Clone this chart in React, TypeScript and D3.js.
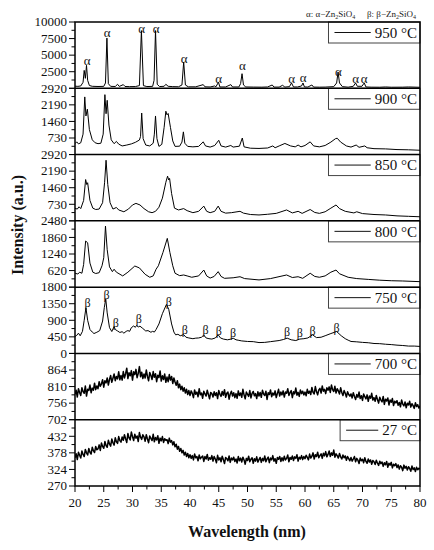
import * as d3 from "d3";
import { useEffect, useRef } from "react";

// panel labels, top to bottom
const temps = ["950 °C", "900 °C", "850 °C", "800 °C", "750 °C", "700 °C", "27 °C"];
const yMin = [0, 0, 0, 0, 0, 702, 270];
const yMax = [10000, 2920, 2920, 2480, 1800, 918, 486];
const yStep = [2500, 730, 730, 620, 450, 54, 54];
const yLabels = [
  [10000, 7500, 5000, 2500],
  [2920, 2190, 1460, 730],
  [2920, 2190, 1460, 730],
  [2480, 1860, 1240, 620],
  [1800, 1350, 900, 450, 0],
  [864, 810, 756, 702],
  [432, 378, 324, 270],
];
const xTicks = [20, 25, 30, 35, 40, 45, 50, 55, 60, 65, 70, 75, 80];

// [2theta, intensity]
const s950 = [
  [20, 320], [20.5, 290], [21, 350], [21.4, 900], [21.6, 2700], [21.8, 1500], [22.0, 3460], [22.2, 1200],
  [22.5, 420], [23, 300], [24, 270], [25, 290], [25.3, 800], [25.55, 7570], [25.8, 700], [26.2, 290],
  [27, 270], [27.4, 600], [27.7, 280], [28.4, 550], [28.7, 270], [29.5, 250], [30.5, 260], [31.2, 400],
  [31.55, 8700], [31.9, 400], [32.5, 260], [33.5, 290], [33.75, 1200], [34.0, 8700], [34.3, 600],
  [34.7, 260], [35.5, 300], [35.8, 600], [36.2, 300], [37, 250], [38, 230], [38.6, 500], [38.9, 3960],
  [39.2, 500], [39.7, 220], [41, 220], [42.3, 550], [42.6, 220], [43.5, 200], [44.3, 350], [44.5, 220],
  [44.95, 900], [45.2, 200], [46.2, 200], [47.1, 550], [47.4, 200], [48.5, 200], [48.8, 700],
  [49.05, 2200], [49.3, 500], [49.7, 200], [51, 180], [52.5, 170], [53.5, 200], [54.3, 500], [54.6, 180],
  [55.5, 180], [56.1, 450], [56.5, 180], [57.3, 250], [57.65, 800], [58, 200], [58.7, 200], [59.4, 350],
  [59.65, 800], [59.9, 200], [60.5, 190], [61.2, 500], [61.5, 180], [62.5, 170], [63.5, 180], [65, 250],
  [65.5, 800], [65.75, 2450], [66, 800], [66.5, 250], [67.5, 170], [68.4, 300], [68.8, 800], [69.1, 300],
  [69.9, 300], [70.3, 800], [70.6, 200], [71.5, 170], [73, 160], [74, 200], [75, 160], [77, 170],
  [78, 200], [80, 150],
];
const s900 = [
  [20, 480], [20.3, 560], [20.6, 470], [21, 520], [21.4, 900], [21.7, 2540], [21.9, 1700], [22.15, 2000],
  [22.5, 1100], [23, 650], [23.5, 520], [24, 480], [24.5, 500], [24.9, 900], [25.2, 2640], [25.4, 1800],
  [25.6, 2390], [25.9, 1300], [26.3, 650], [26.8, 480], [27.2, 580], [27.6, 460], [28.2, 380], [29, 420],
  [29.8, 470], [30.5, 540], [31.2, 640], [31.4, 800], [31.6, 1830], [31.85, 700], [32.3, 420], [33, 380],
  [33.6, 500], [33.8, 900], [34.0, 1700], [34.25, 700], [34.6, 360], [35.1, 450], [35.5, 1200],
  [35.8, 1910], [36.0, 1750], [36.2, 1810], [36.6, 1200], [37, 600], [37.4, 360], [38.2, 370],
  [38.6, 550], [38.85, 1000], [39.1, 500], [39.6, 360], [40.5, 340], [41.5, 360], [42.3, 560],
  [42.7, 380], [43.5, 330], [44.3, 400], [45.0, 630], [45.4, 380], [46.2, 330], [47.1, 400], [47.5, 330],
  [48.6, 370], [49.1, 730], [49.4, 340], [50.5, 280], [52, 270], [53.5, 290], [54.4, 380], [54.8, 300],
  [55.5, 380], [56.5, 490], [57.5, 380], [58.3, 340], [58.8, 420], [59.3, 340], [60, 400], [60.9, 560],
  [61.5, 380], [62.5, 340], [63.5, 400], [64.5, 550], [65.3, 700], [65.6, 720], [66.2, 550], [67.2, 380],
  [68, 330], [68.9, 420], [69.4, 320], [70.4, 380], [70.8, 300], [72, 260], [74, 250], [76, 220],
  [78, 210], [80, 190],
];
const s850 = [
  [20, 550], [20.4, 520], [20.7, 620], [21, 540], [21.5, 900], [21.85, 1820], [22.05, 1600], [22.2, 1680],
  [22.6, 900], [23.1, 560], [23.6, 500], [24.2, 520], [24.8, 800], [25.15, 1700], [25.4, 2670],
  [25.7, 1600], [26.1, 800], [26.6, 520], [27.2, 590], [27.6, 480], [28.5, 400], [29.3, 520], [30, 700],
  [30.6, 770], [31.3, 700], [32, 540], [32.8, 400], [33.4, 360], [34.0, 420], [34.6, 600], [35.2, 1000],
  [35.8, 1700], [36.1, 1970], [36.3, 1800], [36.45, 1870], [36.8, 1200], [37.3, 560], [38, 480],
  [38.9, 540], [39.5, 450], [40.5, 360], [41.5, 420], [42.4, 650], [42.9, 420], [43.5, 360], [44.3, 420],
  [44.9, 650], [45.4, 420], [46.2, 340], [47.2, 360], [48.7, 420], [49.3, 340], [50.5, 280], [52, 260],
  [53.5, 290], [55, 330], [56.8, 480], [57.8, 350], [58.8, 420], [59.5, 330], [60.9, 500], [61.7, 370],
  [62.5, 330], [63.5, 400], [64.5, 560], [65.4, 700], [66, 540], [67, 420], [68.5, 350], [69, 400],
  [70, 320], [72, 280], [74, 260], [76, 220], [78, 200], [80, 180],
];
const s800 = [
  [20, 520], [20.5, 490], [20.8, 560], [21.2, 520], [21.5, 850], [21.85, 1725], [22.2, 1660], [22.6, 900],
  [23.1, 560], [23.6, 510], [24.2, 540], [24.7, 800], [25.0, 1100], [25.3, 2285], [25.6, 1400],
  [26.0, 760], [26.5, 580], [26.8, 670], [27.2, 560], [28.3, 420], [29.2, 560], [30.4, 790], [31.2, 720],
  [32.2, 480], [33, 370], [33.6, 420], [34.1, 670], [34.5, 800], [35.3, 1300], [36.05, 1825],
  [36.5, 1300], [37, 800], [37.4, 520], [38.2, 430], [38.9, 455], [39.5, 420], [40.3, 370], [41.5, 420],
  [42.4, 640], [42.9, 420], [43.5, 340], [44.2, 400], [44.9, 580], [45.4, 400], [46, 330], [47.5, 350],
  [48.7, 390], [49.5, 320], [52, 270], [54, 320], [56.8, 455], [57.8, 360], [58.8, 390], [59.6, 330],
  [60.9, 520], [61.7, 400], [62.5, 370], [63.5, 420], [64.5, 560], [65.4, 640], [66, 500], [67.5, 370],
  [69, 320], [71, 290], [73, 260], [75, 240], [77, 230], [80, 205],
];
const s750 = [
  [20, 458], [20.3, 490], [20.6, 550], [20.9, 480], [21.3, 600], [21.6, 900], [21.9, 1240], [22.2, 900],
  [22.6, 650], [23.0, 580], [23.3, 540], [23.8, 575], [24.3, 620], [24.8, 880], [25.1, 1250],
  [25.35, 1480], [25.6, 1100], [26, 700], [26.4, 595], [26.8, 730], [27.0, 650], [27.4, 610], [27.8, 570],
  [28.2, 590], [28.5, 550], [28.9, 600], [29.2, 620], [29.5, 600], [29.8, 700], [30.2, 745], [30.5, 710],
  [30.7, 760], [31.0, 720], [31.3, 740], [31.7, 690], [32.0, 650], [32.3, 610], [32.7, 620], [33.2, 575],
  [33.5, 600], [33.8, 580], [34.1, 650], [34.6, 800], [35.2, 1080], [35.9, 1330], [36.3, 1200],
  [36.8, 800], [37.2, 580], [37.5, 505], [37.9, 520], [38.3, 480], [38.9, 510], [39.3, 440], [39.8, 420],
  [40.5, 400], [41, 415], [41.5, 420], [42.0, 440], [42.4, 500], [42.8, 420], [43.3, 400], [43.8, 390],
  [44.4, 420], [44.9, 505], [45.3, 420], [45.8, 390], [46.5, 370], [47.0, 385], [47.5, 415], [48, 370],
  [48.5, 355], [49, 340], [50, 325], [51, 320], [52, 295], [53, 300], [54, 320], [55.5, 350], [56.3, 380],
  [56.9, 415], [57.6, 370], [58.4, 350], [59.1, 390], [59.8, 400], [60.5, 420], [61.3, 505], [62, 430],
  [62.8, 440], [63.5, 480], [64.5, 540], [65.5, 595], [66.3, 480], [67, 400], [67.5, 360], [68, 325],
  [69, 315], [70, 300], [71, 290], [72, 270], [73, 265], [74, 250], [75, 240], [76, 225], [77, 215],
  [78, 200], [79, 200], [80, 190],
];

// amorphous patterns, one value every 0.2 deg from 20 to 80
const noiseStart = 20;
const noiseStep = 0.2;
const s700 = [
  785, 798, 776, 803, 791, 781, 806, 794, 788, 812, 779, 801, 797, 815, 790, 805, 798, 821, 800, 812,
  803, 826, 811, 819, 832, 808, 829, 822, 838, 815, 833, 846, 824, 837, 851, 829, 843, 835, 858, 832,
  846, 831, 859, 838, 852, 870, 836, 855, 845, 862, 831, 858, 849, 866, 839, 853, 875, 842, 857, 836,
  851, 838, 864, 843, 829, 856, 846, 833, 859, 840, 852, 826, 847, 839, 861, 828, 845, 833, 851, 824,
  841, 826, 849, 831, 843, 820, 838, 825, 814, 829, 806, 818, 800, 811, 795, 806, 789, 801, 784, 797,
  781, 796, 788, 774, 799, 785, 792, 777, 803, 783, 789, 772, 795, 786, 779, 798, 784, 770, 791, 787,
  776, 793, 781, 790, 771, 797, 785, 778, 794, 782, 800, 775, 788, 792, 769, 786, 795, 779, 790, 774,
  787, 772, 796, 781, 789, 775, 801, 783, 770, 792, 785, 778, 797, 773, 788, 794, 780, 787, 771, 793,
  779, 791, 775, 798, 786, 781, 795, 768, 790, 784, 799, 777, 789, 782, 796, 774, 788, 801, 779, 792,
  783, 796, 776, 792, 788, 803, 781, 790, 797, 774, 793, 786, 805, 782, 791, 778, 799, 787, 795, 783,
  792, 780, 801, 788, 795, 784, 807, 791, 786, 810, 793, 783, 799, 804, 789, 812, 795, 801, 787, 806,
  798, 809, 791, 815, 800, 794, 811, 789, 803, 796, 786, 806, 791, 781, 797, 788, 776, 793, 784, 779,
  786, 773, 790, 778, 768, 784, 775, 792, 771, 780, 765, 786, 777, 770, 783, 762, 779, 772, 788, 766,
  774, 762, 781, 768, 756, 775, 766, 760, 778, 752, 769, 763, 773, 750, 766, 759, 771, 748, 762, 757,
  764, 749, 758, 744, 766, 753, 747, 760, 741, 756, 750, 762, 743, 754, 748, 739, 757, 745, 751, 740,
  747,
];
const s27 = [
  362, 375, 356, 380, 370, 361, 384, 373, 366, 389, 378, 371, 392, 380, 374, 396, 385, 379, 399, 388,
  391, 404, 386, 410, 399, 393, 415, 402, 396, 419, 407, 400, 423, 411, 403, 427, 414, 409, 431, 418,
  413, 430, 419, 437, 424, 412, 441, 427, 420, 446, 431, 418, 439, 426, 433, 415, 444, 429, 422, 437,
  430, 416, 437, 423, 411, 433, 425, 418, 439, 414, 428, 420, 434, 409, 426, 417, 431, 412, 424, 419,
  421, 408, 426, 413, 418, 404, 414, 398, 406, 390, 399, 383, 392, 378, 386, 371, 380, 366, 376, 362,
  372, 360, 369, 355, 374, 362, 366, 352, 371, 359, 364, 368, 350, 366, 358, 373, 354, 362, 357, 369,
  351, 366, 358, 346, 370, 355, 362, 349, 367, 356, 343, 363, 359, 352, 368, 347, 361, 355, 364, 350,
  358, 345, 366, 352, 361, 348, 364, 355, 341, 360, 353, 367, 349, 357, 362, 344, 359, 351, 365, 348,
  356, 363, 347, 360, 352, 368, 349, 358, 364, 346, 361, 355, 369, 351, 359, 344, 363, 357, 366, 350,
  362, 352, 367, 355, 360, 371, 349, 363, 357, 368, 353, 365, 360, 372, 351, 364, 358, 369, 356, 366,
  359, 370, 363, 355, 374, 361, 367, 378, 358, 372, 366, 380, 362, 369, 375, 360, 377, 368, 382, 365,
  373, 384, 366, 378, 370, 387, 364, 375, 369, 361, 376, 365, 358, 371, 362, 368, 354, 366, 359, 352,
  363, 351, 358, 366, 349, 360, 354, 343, 361, 352, 357, 346, 362, 350, 344, 358, 348, 355, 341, 353,
  349, 340, 354, 345, 337, 351, 343, 348, 334, 346, 339, 350, 331, 344, 338, 347, 329, 341, 336, 343,
  330, 339, 325, 336, 331, 320, 338, 328, 334, 322, 333, 327, 318, 335, 324, 329, 317, 331, 323, 328,
  325,
];

// phase markers (label centres)
const alphaX = [22.1, 25.6, 31.6, 34.1, 39.0, 45.0, 49.1, 57.7, 59.7, 65.8, 68.8, 70.3];
const alphaY = [4070, 8330, 8990, 8890, 4470, 1360, 3360, 1360, 1610, 2450, 1360, 1360];
const betaX = [22.2, 25.5, 27.1, 31.1, 36.3, 39.1, 42.7, 45.0, 47.5, 56.9, 59.1, 61.3, 65.5];
const betaY = [1365, 1590, 840, 930, 1410, 640, 640, 620, 550, 594, 550, 613, 685];

const W = 434;
const H = 550;
const plotL = 75;
const plotR = 420;
const plotT = 22;
const plotB = 486;
const font = "Liberation Serif, DejaVu Serif, serif";

export default function App() {
  const svgRef = useRef<SVGSVGElement>(null);

  useEffect(() => {
    const svg = d3.select(svgRef.current);
    svg.selectAll("*").remove();

    const x = d3.scaleLinear().domain([20, 80]).range([plotL, plotR]);
    const ph = (plotB - plotT) / temps.length;
    const grid = (vals: number[]) => vals.map((v, i) => [noiseStart + i * noiseStep, v]);
    const series = [s950, s900, s850, s800, s750, grid(s700), grid(s27)];
    const defs = svg.append("defs");
    const yScales: d3.ScaleLinear<number, number>[] = [];

    const txt = (g: any) => g.append("text").style("font-family", font).attr("fill", "#111");

    temps.forEach((name, i) => {
      const top = plotT + i * ph;
      const bot = top + ph;
      const y = d3.scaleLinear().domain([yMin[i], yMax[i]]).range([bot, top]);
      yScales.push(y);

      defs
        .append("clipPath")
        .attr("id", `clip${i}`)
        .append("rect")
        .attr("x", plotL)
        .attr("y", top)
        .attr("width", plotR - plotL)
        .attr("height", ph);

      const line = d3
        .line<number[]>()
        .x((d) => x(d[0]))
        .y((d) => y(d[1]));

      svg
        .append("path")
        .datum(series[i])
        .attr("d", line)
        .attr("fill", "none")
        .attr("stroke", "#000")
        .attr("stroke-width", i >= 5 ? 1.5 : 1)
        .attr("stroke-linejoin", "round")
        .attr("clip-path", `url(#clip${i})`);

      // y ticks
      const step = yStep[i];
      const major = d3.range(yMin[i], yMax[i] + step / 2, step);
      const minor = d3.range(yMin[i] + step / 2, yMax[i], step);
      const tg = svg.append("g").attr("stroke", "#000").attr("stroke-width", 1);
      major.forEach((v) =>
        tg.append("line").attr("x1", plotL - 6).attr("x2", plotL).attr("y1", y(v)).attr("y2", y(v))
      );
      minor.forEach((v) =>
        tg.append("line").attr("x1", plotL - 3.5).attr("x2", plotL).attr("y1", y(v)).attr("y2", y(v))
      );
      yLabels[i].forEach((v) =>
        txt(svg)
          .attr("x", plotL - 8)
          .attr("y", y(v))
          .attr("dy", "0.33em")
          .attr("text-anchor", "end")
          .attr("font-size", 13)
          .text(v)
      );

      // legend box
      const lg = svg.append("g");
      const t = txt(lg)
        .attr("x", plotR - 3)
        .attr("y", top + 10.8)
        .attr("dy", "0.33em")
        .attr("text-anchor", "end")
        .attr("font-size", 15)
        .text(name);
      const tw = (t.node() as SVGTextElement).getComputedTextLength();
      const lineLen = tw * 0.55 + 13;
      const bx = plotR - 3 - tw - 4 - lineLen - 6;
      lg.insert("rect", "text")
        .attr("x", bx)
        .attr("y", top)
        .attr("width", plotR - bx)
        .attr("height", 21)
        .attr("fill", "#fff")
        .attr("stroke", "#444")
        .attr("stroke-width", 1);
      lg.append("line")
        .attr("x1", bx + 6)
        .attr("x2", bx + 6 + lineLen)
        .attr("y1", top + 10.5)
        .attr("y2", top + 10.5)
        .attr("stroke", "#111")
        .attr("stroke-width", 1);
    });

    // phase markers
    alphaX.forEach((v, j) =>
      txt(svg)
        .attr("x", x(v))
        .attr("y", yScales[0](alphaY[j]))
        .attr("dy", "0.3em")
        .attr("text-anchor", "middle")
        .attr("font-size", 13)
        .text("α")
    );
    betaX.forEach((v, j) =>
      txt(svg)
        .attr("x", x(v))
        .attr("y", yScales[4](betaY[j]))
        .attr("dy", "0.35em")
        .attr("text-anchor", "middle")
        .attr("font-size", 12)
        .text("β")
    );

    // frame and panel separators
    const fg = svg.append("g").attr("stroke", "#000").attr("stroke-width", 1.5).attr("fill", "none");
    fg.append("rect").attr("x", plotL).attr("y", plotT).attr("width", plotR - plotL).attr("height", plotB - plotT);
    d3.range(1, temps.length).forEach((k) =>
      fg.append("line").attr("x1", plotL).attr("x2", plotR).attr("y1", plotT + k * ph).attr("y2", plotT + k * ph)
    );

    // x axis
    const xg = svg.append("g").attr("stroke", "#000").attr("stroke-width", 1);
    xTicks.forEach((v) =>
      xg.append("line").attr("x1", x(v)).attr("x2", x(v)).attr("y1", plotB).attr("y2", plotB + 6)
    );
    xTicks.slice(0, -1).forEach((v) =>
      xg.append("line").attr("x1", x(v + 2.5)).attr("x2", x(v + 2.5)).attr("y1", plotB).attr("y2", plotB + 3.5)
    );
    xTicks.forEach((v) =>
      txt(svg)
        .attr("x", x(v))
        .attr("y", plotB + 20.5)
        .attr("text-anchor", "middle")
        .attr("font-size", 13)
        .text(v)
    );

    txt(svg)
      .attr("x", 247)
      .attr("y", 537)
      .attr("text-anchor", "middle")
      .attr("font-size", 16)
      .attr("font-weight", "bold")
      .text("Wavelength (nm)");
    txt(svg)
      .attr("transform", "translate(22.5,225) rotate(-90)")
      .attr("text-anchor", "middle")
      .attr("font-size", 16)
      .attr("font-weight", "bold")
      .text("Intensity (a.u.)");

    // phase key at the top
    const key = (xPos: number, g: string) => {
      const k = txt(svg).attr("x", xPos).attr("y", 17).attr("font-size", 9).attr("fill", "#222");
      k.append("tspan").text(`${g}: ${g}−Zn`);
      k.append("tspan").attr("font-size", 6).attr("dy", 2).text("2");
      k.append("tspan").attr("dy", -2).text("SiO");
      k.append("tspan").attr("font-size", 6).attr("dy", 2).text("4");
    };
    key(306, "α");
    key(367, "β");
  }, []);

  return (
    <svg
      ref={svgRef}
      width={W}
      height={H}
      style={{ position: "absolute", left: 0, top: 0, background: "#fff", fontFamily: font }}
    ></svg>
  );
}
